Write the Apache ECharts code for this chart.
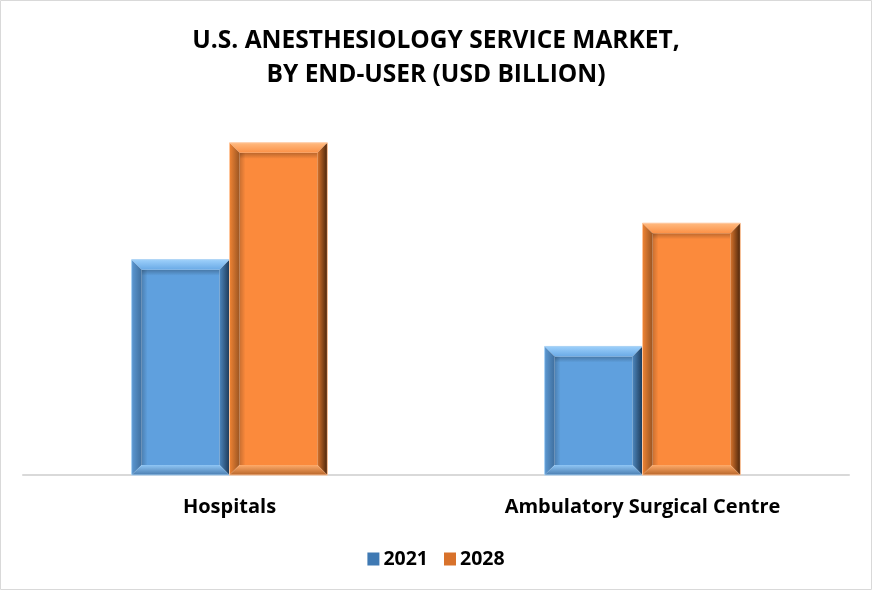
<!DOCTYPE html>
<html>
<head>
<meta charset="utf-8">
<script src="https://cdn.jsdelivr.net/npm/echarts@6/dist/echarts.min.js"></script>
<style>
  html, body { margin:0; padding:0; background:#fff; }
  #chart { width:872px; height:590px; }
</style>
</head>
<body>
<div id="chart"></div>
<script>
const categories = ['Hospitals', 'Ambulatory Surgical Centre'];
const years = ['2021', '2028'];
const values2021 = [2.01, 1.20];
const values2028 = [3.10, 2.35];

// face, top bevel, left bevel (outer, inner), right bevel (inner, outer), bottom (inner, outer)
const palettes = [
  {face:'#5fa0de', top:['#9dd0fb','#6aaae6'], left:['#5b98d2','#3f6f9f'], right:['#4c86bd','#1d3957'], bottom:['#8fc6f5','#4a7db0'], edge:'#a9d2f5'},
  {face:'#fb8a3c', top:['#ffba80','#fc9146'], left:['#f08434','#9a5522'], right:['#d8742c','#4a240a'], bottom:['#ffab6a','#b8662a'], edge:'#ffc59a'}
];

function grad(x0, y0, x1, y1, c) {
  return new echarts.graphic.LinearGradient(x0, y0, x1, y1, [{offset:0, color:c[0]}, {offset:1, color:c[1]}]);
}

function bevelBar(si) {
  return function (params, api) {
    const pal = palettes[si];
    const top = api.coord([api.value(0), api.value(1)]);
    const base = api.coord([api.value(0), 0]);
    const band = api.size([1, 0])[0];
    const w = band * 0.237;
    const x0 = si === 0 ? top[0] - w : top[0];
    const x1 = x0 + w;
    const y0 = top[1], y1 = base[1];
    const b = 10;
    const kids = [
      {type:'rect', shape:{x:x0+b, y:y0+b, width:w-2*b, height:y1-y0-2*b}, style:{fill:pal.face}},
      {type:'rect', shape:{x:x0+b, y:y0+b, width:w-2*b, height:6},
        style:{fill:new echarts.graphic.LinearGradient(0,0,0,1,[{offset:0,color:'rgba(0,0,0,0.25)'},{offset:1,color:'rgba(0,0,0,0)'}])}},
      {type:'rect', shape:{x:x0+b, y:y0+b, width:6, height:y1-y0-2*b},
        style:{fill:new echarts.graphic.LinearGradient(0,0,1,0,[{offset:0,color:'rgba(0,0,0,0.2)'},{offset:1,color:'rgba(0,0,0,0)'}])}},
      {type:'polygon', shape:{points:[[x0,y0],[x1,y0],[x1-b,y0+b],[x0+b,y0+b]]}, style:{fill:grad(0,0,0,1,pal.top)}},
      {type:'polygon', shape:{points:[[x0,y0],[x0+b,y0+b],[x0+b,y1-b],[x0,y1]]}, style:{fill:grad(0,0,1,0,pal.left)}},
      {type:'polygon', shape:{points:[[x1,y0],[x1,y1],[x1-b,y1-b],[x1-b,y0+b]]}, style:{fill:grad(1,0,0,0,[pal.right[1],pal.right[0]])}},
      {type:'polygon', shape:{points:[[x0,y1],[x0+b,y1-b],[x1-b,y1-b],[x1,y1]]}, style:{fill:grad(0,0,0,1,pal.bottom)}},
      {type:'rect', shape:{x:x0, y:y0, width:w, height:y1-y0}, style:{fill:'none', stroke:pal.edge, lineWidth:1}}
    ];
    return {type:'group', children:kids};
  };
}

const chart = echarts.init(document.getElementById('chart'));
chart.setOption({
  animation: false,
  title: {
    text: 'U.S. ANESTHESIOLOGY SERVICE MARKET,\nBY END-USER (USD BILLION)',
    left: 'center', top: 19,
    textStyle: {fontFamily:'Open Sans', fontWeight:'bold', fontSize:24.5, color:'#000', lineHeight:34}
  },
  legend: {
    top: 544, left: 'center',
    itemWidth: 12, itemHeight: 13, itemGap: 16,
    icon: 'rect',
    textStyle: {fontFamily:'Open Sans', fontWeight:'bold', fontSize:19.5, color:'#000', padding:[0,0,0,-1]},
    data: [
      {name:years[0], itemStyle:{color:'#3f79b3'}},
      {name:years[1], itemStyle:{color:'#d8722b'}}
    ]
  },
  grid: {left:23, right:23, top:100, bottom:115},
  xAxis: {
    type:'category', data: categories,
    axisLine:{lineStyle:{color:'#d9d9d9', width:2}},
    axisTick:{show:false},
    axisLabel:{fontFamily:'Open Sans', fontWeight:'bold', fontSize:20, color:'#000', margin:22}
  },
  yAxis: {type:'value', min:0, max:3.5, show:false, splitLine:{show:false}},
  series: [
    {name:years[0], type:'custom', renderItem:bevelBar(0), encode:{x:0, y:1},
      data: values2021.map((v, i) => [i, v])},
    {name:years[1], type:'custom', renderItem:bevelBar(1), encode:{x:0, y:1},
      data: values2028.map((v, i) => [i, v])}
  ],
  graphic: [{type:'rect', shape:{x:0.5, y:0.5, width:871, height:589}, style:{fill:'none', stroke:'#d9d9d9', lineWidth:1}, silent:true}]
});
</script>
</body>
</html>
